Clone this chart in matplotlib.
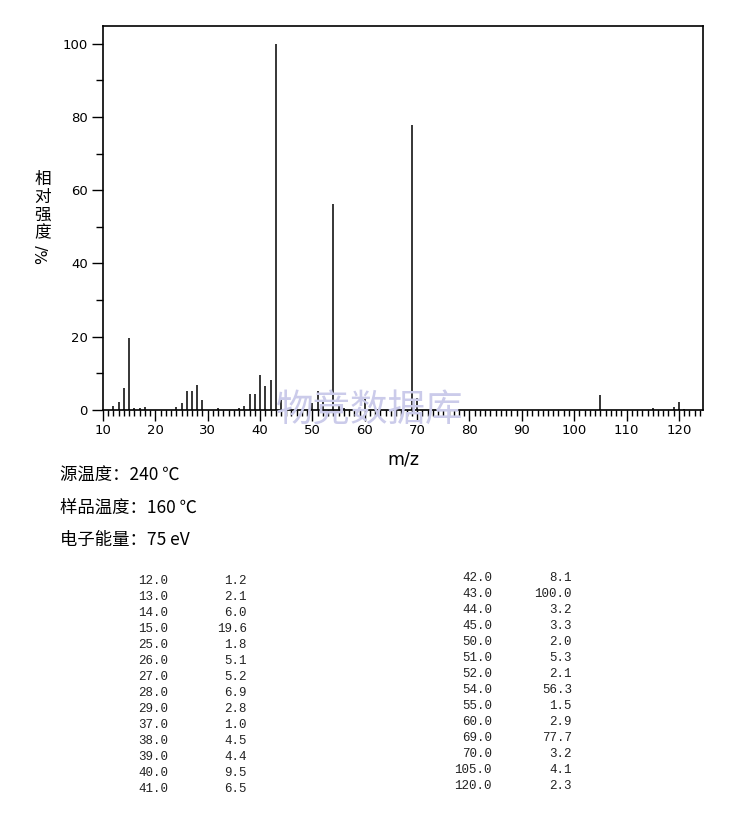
import matplotlib
matplotlib.use("Agg")
import matplotlib.pyplot as plt
from matplotlib.ticker import MultipleLocator

plt.rcParams['font.family'] = ['DejaVu Sans', 'Noto Sans CJK SC']

#=================
# data
#=================
mz = [12, 13, 14, 15, 25, 26, 27, 28, 29, 37, 38, 39, 40, 41,
      42, 43, 44, 45, 50, 51, 52, 54, 55, 60, 69, 70, 105, 120]
intensity = [1.2, 2.1, 6.0, 19.6, 1.8, 5.1, 5.2, 6.9, 2.8, 1.0, 4.5, 4.4, 9.5, 6.5,
             8.1, 100.0, 3.2, 3.3, 2.0, 5.3, 2.1, 56.3, 1.5, 2.9, 77.7, 3.2, 4.1, 2.3]

# small peaks shown in the spectrum but not listed in the table (estimated)
minor_mz = [16, 17, 18, 24, 32, 36, 56, 65, 115, 119, 121]
minor_intensity = [0.6, 0.5, 0.8, 0.7, 0.6, 0.6, 0.5, 0.4, 0.5, 0.8, 0.3]

info_lines = ["源温度：240 ℃", "样品温度：160 ℃", "电子能量：75 eV"]

#=================
# figure
#=================
W, H = 737, 822
fig = plt.figure(figsize=(W / 100, H / 100), dpi=100)
ax = fig.add_axes([103 / W, 1 - 410 / H, 600 / W, 384 / H])

ax.vlines(mz, 0, intensity, colors="black", linewidth=1.1)
ax.vlines(minor_mz, 0, minor_intensity, colors="black", linewidth=1.1)

ax.set_xlim(10, 124.6)
ax.set_ylim(0, 104.8)

ax.xaxis.set_major_locator(MultipleLocator(10))
ax.xaxis.set_minor_locator(MultipleLocator(1))
ax.yaxis.set_major_locator(MultipleLocator(20))
ax.yaxis.set_minor_locator(MultipleLocator(10))
ax.tick_params(axis="x", which="major", direction="out", length=8, width=1, labelsize=9.5, pad=2)
ax.tick_params(axis="x", which="minor", direction="out", length=4, width=1)
ax.tick_params(axis="y", which="major", direction="out", length=8, width=1, labelsize=9.5, pad=3)
ax.tick_params(axis="y", which="minor", direction="out", length=5, width=1)
for s in ax.spines.values():
    s.set_linewidth(1.2)

fig.text(403 / W, 1 - 459 / H, "m/z", ha="center", va="center", fontsize=12.5)

# y label: stacked characters plus rotated unit
fig.text(43 / W, 1 - 206 / H, "相\n对\n强\n度", ha="center", va="center",
         fontsize=12, linespacing=1.05, family=['Noto Sans CJK SC'])
fig.text(43 / W, 1 - 254 / H, "%/", ha="center", va="center", rotation=90, fontsize=11)

# watermark
fig.text(370 / W, 1 - 411 / H, "物竞数据库", ha="center", va="center", fontsize=27,
         color="#cbcbea", family=['Noto Sans CJK SC'], zorder=0)

#=================
# info text
#=================
for i, line in enumerate(info_lines):
    fig.text(60 / W, 1 - (476 + 32 * i) / H, line, ha="left", va="center",
             fontsize=12.5, family=['Noto Sans CJK SC', 'DejaVu Sans'])

#=================
# peak table
#=================
half = (len(mz) + 1) // 2
for i in range(len(mz)):
    if i < half:
        x1, x2, y = 168, 247, 581 + 16 * i
    else:
        x1, x2, y = 492, 572, 578 + 16 * (i - half)
    fig.text(x1 / W, 1 - y / H, f"{mz[i]:.1f}", ha="right", va="center",
             fontsize=9, family="Liberation Mono", color="#222222")
    fig.text(x2 / W, 1 - y / H, f"{intensity[i]:.1f}", ha="right", va="center",
             fontsize=9, family="Liberation Mono", color="#222222")

fig.savefig("out.png", dpi=100)
